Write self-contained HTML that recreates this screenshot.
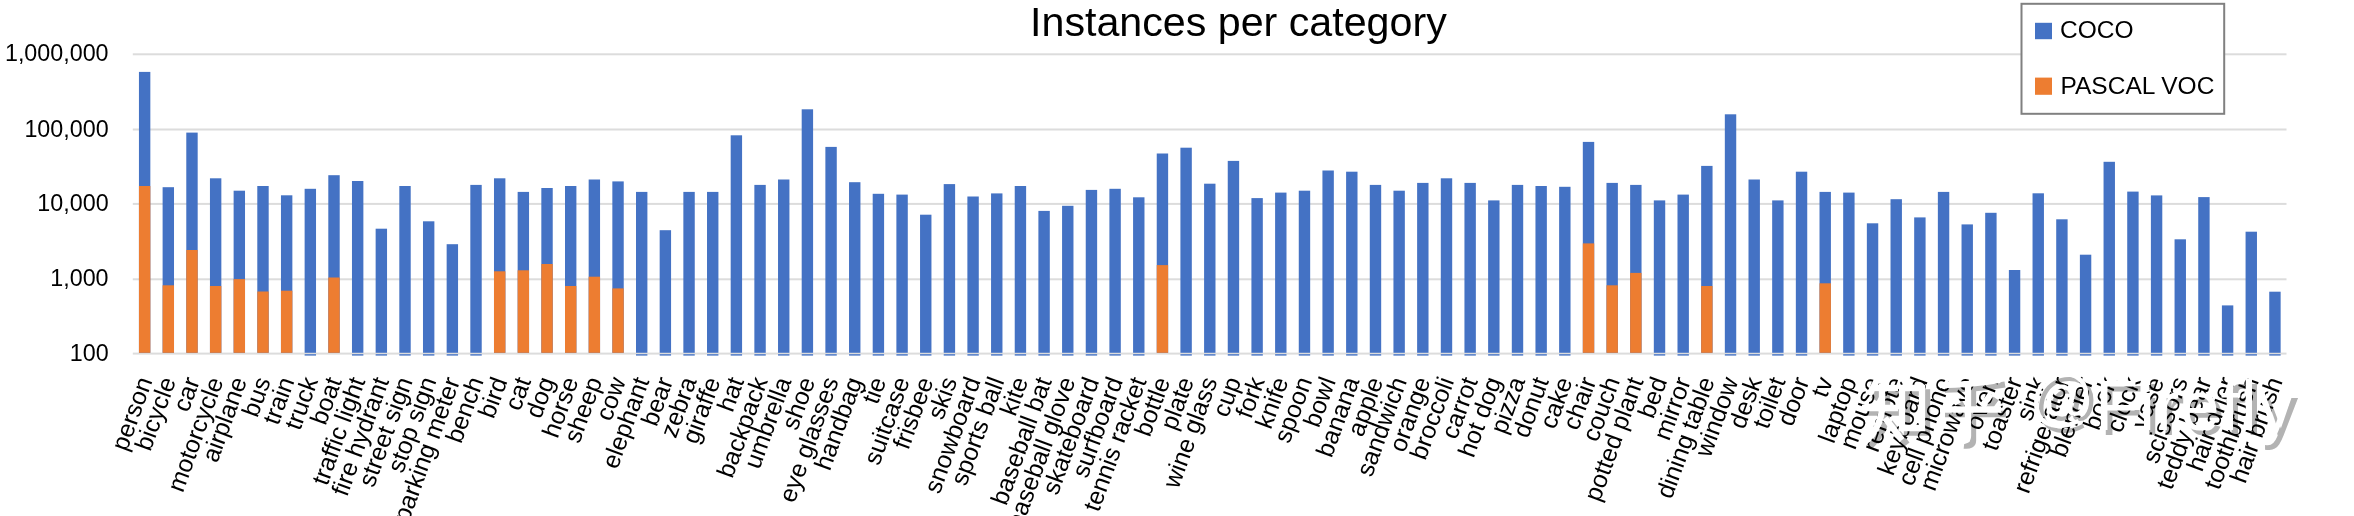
<!DOCTYPE html><html><head><meta charset="utf-8"><style>html,body{margin:0;padding:0;background:#fff;width:2354px;height:516px;overflow:hidden}svg{display:block}text{font-family:"Liberation Sans",sans-serif}</style></head><body>
<svg width="2354" height="516" viewBox="0 0 2354 516">
<rect x="132.8" y="53.30" width="2153.7" height="2" fill="#dcdcdc"/>
<rect x="132.8" y="128.50" width="2153.7" height="2" fill="#dcdcdc"/>
<rect x="132.8" y="202.90" width="2153.7" height="2" fill="#dcdcdc"/>
<rect x="132.8" y="278.30" width="2153.7" height="2" fill="#dcdcdc"/>
<rect x="132.8" y="352.60" width="2153.7" height="2" fill="#dcdcdc"/>
<text x="108.6" y="53.30" font-size="23.3" text-anchor="end" dominant-baseline="central" fill="#000">1,000,000</text>
<text x="108.6" y="128.50" font-size="23.3" text-anchor="end" dominant-baseline="central" fill="#000">100,000</text>
<text x="108.6" y="202.90" font-size="23.3" text-anchor="end" dominant-baseline="central" fill="#000">10,000</text>
<text x="108.6" y="278.30" font-size="23.3" text-anchor="end" dominant-baseline="central" fill="#000">1,000</text>
<text x="108.6" y="352.60" font-size="23.3" text-anchor="end" dominant-baseline="central" fill="#000">100</text>
<rect x="138.94" y="71.90" width="11.4" height="280.90" fill="#4472C4"/>
<rect x="138.94" y="186.00" width="11.4" height="166.80" fill="#ED7D31"/>
<rect x="162.61" y="187.20" width="11.4" height="165.60" fill="#4472C4"/>
<rect x="162.61" y="285.30" width="11.4" height="67.50" fill="#ED7D31"/>
<rect x="186.28" y="132.60" width="11.4" height="220.20" fill="#4472C4"/>
<rect x="186.28" y="250.00" width="11.4" height="102.80" fill="#ED7D31"/>
<rect x="209.95" y="178.30" width="11.4" height="174.50" fill="#4472C4"/>
<rect x="209.95" y="286.00" width="11.4" height="66.80" fill="#ED7D31"/>
<rect x="233.62" y="190.70" width="11.4" height="162.10" fill="#4472C4"/>
<rect x="233.62" y="279.10" width="11.4" height="73.70" fill="#ED7D31"/>
<rect x="257.29" y="186.00" width="11.4" height="166.80" fill="#4472C4"/>
<rect x="257.29" y="291.50" width="11.4" height="61.30" fill="#ED7D31"/>
<rect x="280.96" y="195.30" width="11.4" height="157.50" fill="#4472C4"/>
<rect x="280.96" y="290.70" width="11.4" height="62.10" fill="#ED7D31"/>
<rect x="304.63" y="188.80" width="11.4" height="164.00" fill="#4472C4"/>
<rect x="304.63" y="354.2" width="11.4" height="1.4" fill="#4472C4"/>
<rect x="328.30" y="175.20" width="11.4" height="177.60" fill="#4472C4"/>
<rect x="328.30" y="277.50" width="11.4" height="75.30" fill="#ED7D31"/>
<rect x="351.97" y="181.00" width="11.4" height="171.80" fill="#4472C4"/>
<rect x="351.97" y="354.2" width="11.4" height="1.4" fill="#4472C4"/>
<rect x="375.64" y="228.70" width="11.4" height="124.10" fill="#4472C4"/>
<rect x="375.64" y="354.2" width="11.4" height="1.4" fill="#4472C4"/>
<rect x="399.31" y="186.00" width="11.4" height="166.80" fill="#4472C4"/>
<rect x="399.31" y="354.2" width="11.4" height="1.4" fill="#4472C4"/>
<rect x="422.98" y="221.30" width="11.4" height="131.50" fill="#4472C4"/>
<rect x="422.98" y="354.2" width="11.4" height="1.4" fill="#4472C4"/>
<rect x="446.65" y="244.20" width="11.4" height="108.60" fill="#4472C4"/>
<rect x="446.65" y="354.2" width="11.4" height="1.4" fill="#4472C4"/>
<rect x="470.32" y="184.90" width="11.4" height="167.90" fill="#4472C4"/>
<rect x="470.32" y="354.2" width="11.4" height="1.4" fill="#4472C4"/>
<rect x="493.99" y="178.30" width="11.4" height="174.50" fill="#4472C4"/>
<rect x="493.99" y="271.30" width="11.4" height="81.50" fill="#ED7D31"/>
<rect x="517.65" y="191.90" width="11.4" height="160.90" fill="#4472C4"/>
<rect x="517.65" y="270.30" width="11.4" height="82.50" fill="#ED7D31"/>
<rect x="541.33" y="188.00" width="11.4" height="164.80" fill="#4472C4"/>
<rect x="541.33" y="264.00" width="11.4" height="88.80" fill="#ED7D31"/>
<rect x="565.00" y="186.00" width="11.4" height="166.80" fill="#4472C4"/>
<rect x="565.00" y="286.00" width="11.4" height="66.80" fill="#ED7D31"/>
<rect x="588.66" y="179.50" width="11.4" height="173.30" fill="#4472C4"/>
<rect x="588.66" y="276.70" width="11.4" height="76.10" fill="#ED7D31"/>
<rect x="612.34" y="181.40" width="11.4" height="171.40" fill="#4472C4"/>
<rect x="612.34" y="288.40" width="11.4" height="64.40" fill="#ED7D31"/>
<rect x="636.00" y="191.90" width="11.4" height="160.90" fill="#4472C4"/>
<rect x="636.00" y="354.2" width="11.4" height="1.4" fill="#4472C4"/>
<rect x="659.67" y="230.20" width="11.4" height="122.60" fill="#4472C4"/>
<rect x="659.67" y="354.2" width="11.4" height="1.4" fill="#4472C4"/>
<rect x="683.35" y="191.90" width="11.4" height="160.90" fill="#4472C4"/>
<rect x="683.35" y="354.2" width="11.4" height="1.4" fill="#4472C4"/>
<rect x="707.02" y="191.90" width="11.4" height="160.90" fill="#4472C4"/>
<rect x="707.02" y="354.2" width="11.4" height="1.4" fill="#4472C4"/>
<rect x="730.68" y="135.30" width="11.4" height="217.50" fill="#4472C4"/>
<rect x="730.68" y="354.2" width="11.4" height="1.4" fill="#4472C4"/>
<rect x="754.36" y="184.90" width="11.4" height="167.90" fill="#4472C4"/>
<rect x="754.36" y="354.2" width="11.4" height="1.4" fill="#4472C4"/>
<rect x="778.03" y="179.50" width="11.4" height="173.30" fill="#4472C4"/>
<rect x="778.03" y="354.2" width="11.4" height="1.4" fill="#4472C4"/>
<rect x="801.69" y="109.30" width="11.4" height="243.50" fill="#4472C4"/>
<rect x="801.69" y="354.2" width="11.4" height="1.4" fill="#4472C4"/>
<rect x="825.37" y="146.90" width="11.4" height="205.90" fill="#4472C4"/>
<rect x="825.37" y="354.2" width="11.4" height="1.4" fill="#4472C4"/>
<rect x="849.04" y="182.20" width="11.4" height="170.60" fill="#4472C4"/>
<rect x="849.04" y="354.2" width="11.4" height="1.4" fill="#4472C4"/>
<rect x="872.70" y="193.80" width="11.4" height="159.00" fill="#4472C4"/>
<rect x="872.70" y="354.2" width="11.4" height="1.4" fill="#4472C4"/>
<rect x="896.38" y="194.60" width="11.4" height="158.20" fill="#4472C4"/>
<rect x="896.38" y="354.2" width="11.4" height="1.4" fill="#4472C4"/>
<rect x="920.05" y="214.70" width="11.4" height="138.10" fill="#4472C4"/>
<rect x="920.05" y="354.2" width="11.4" height="1.4" fill="#4472C4"/>
<rect x="943.71" y="184.10" width="11.4" height="168.70" fill="#4472C4"/>
<rect x="943.71" y="354.2" width="11.4" height="1.4" fill="#4472C4"/>
<rect x="967.38" y="196.50" width="11.4" height="156.30" fill="#4472C4"/>
<rect x="967.38" y="354.2" width="11.4" height="1.4" fill="#4472C4"/>
<rect x="991.06" y="193.40" width="11.4" height="159.40" fill="#4472C4"/>
<rect x="991.06" y="354.2" width="11.4" height="1.4" fill="#4472C4"/>
<rect x="1014.73" y="186.00" width="11.4" height="166.80" fill="#4472C4"/>
<rect x="1014.73" y="354.2" width="11.4" height="1.4" fill="#4472C4"/>
<rect x="1038.39" y="210.90" width="11.4" height="141.90" fill="#4472C4"/>
<rect x="1038.39" y="354.2" width="11.4" height="1.4" fill="#4472C4"/>
<rect x="1062.07" y="205.80" width="11.4" height="147.00" fill="#4472C4"/>
<rect x="1062.07" y="354.2" width="11.4" height="1.4" fill="#4472C4"/>
<rect x="1085.74" y="189.90" width="11.4" height="162.90" fill="#4472C4"/>
<rect x="1085.74" y="354.2" width="11.4" height="1.4" fill="#4472C4"/>
<rect x="1109.40" y="188.80" width="11.4" height="164.00" fill="#4472C4"/>
<rect x="1109.40" y="354.2" width="11.4" height="1.4" fill="#4472C4"/>
<rect x="1133.08" y="197.30" width="11.4" height="155.50" fill="#4472C4"/>
<rect x="1133.08" y="354.2" width="11.4" height="1.4" fill="#4472C4"/>
<rect x="1156.74" y="153.50" width="11.4" height="199.30" fill="#4472C4"/>
<rect x="1156.74" y="265.10" width="11.4" height="87.70" fill="#ED7D31"/>
<rect x="1180.41" y="147.70" width="11.4" height="205.10" fill="#4472C4"/>
<rect x="1180.41" y="354.2" width="11.4" height="1.4" fill="#4472C4"/>
<rect x="1204.09" y="183.70" width="11.4" height="169.10" fill="#4472C4"/>
<rect x="1204.09" y="354.2" width="11.4" height="1.4" fill="#4472C4"/>
<rect x="1227.75" y="160.90" width="11.4" height="191.90" fill="#4472C4"/>
<rect x="1227.75" y="354.2" width="11.4" height="1.4" fill="#4472C4"/>
<rect x="1251.42" y="198.10" width="11.4" height="154.70" fill="#4472C4"/>
<rect x="1251.42" y="354.2" width="11.4" height="1.4" fill="#4472C4"/>
<rect x="1275.10" y="192.60" width="11.4" height="160.20" fill="#4472C4"/>
<rect x="1275.10" y="354.2" width="11.4" height="1.4" fill="#4472C4"/>
<rect x="1298.77" y="190.70" width="11.4" height="162.10" fill="#4472C4"/>
<rect x="1298.77" y="354.2" width="11.4" height="1.4" fill="#4472C4"/>
<rect x="1322.43" y="170.50" width="11.4" height="182.30" fill="#4472C4"/>
<rect x="1322.43" y="354.2" width="11.4" height="1.4" fill="#4472C4"/>
<rect x="1346.11" y="171.70" width="11.4" height="181.10" fill="#4472C4"/>
<rect x="1346.11" y="354.2" width="11.4" height="1.4" fill="#4472C4"/>
<rect x="1369.78" y="184.90" width="11.4" height="167.90" fill="#4472C4"/>
<rect x="1369.78" y="354.2" width="11.4" height="1.4" fill="#4472C4"/>
<rect x="1393.44" y="190.70" width="11.4" height="162.10" fill="#4472C4"/>
<rect x="1393.44" y="354.2" width="11.4" height="1.4" fill="#4472C4"/>
<rect x="1417.12" y="182.90" width="11.4" height="169.90" fill="#4472C4"/>
<rect x="1417.12" y="354.2" width="11.4" height="1.4" fill="#4472C4"/>
<rect x="1440.79" y="178.30" width="11.4" height="174.50" fill="#4472C4"/>
<rect x="1440.79" y="354.2" width="11.4" height="1.4" fill="#4472C4"/>
<rect x="1464.45" y="182.90" width="11.4" height="169.90" fill="#4472C4"/>
<rect x="1464.45" y="354.2" width="11.4" height="1.4" fill="#4472C4"/>
<rect x="1488.12" y="200.40" width="11.4" height="152.40" fill="#4472C4"/>
<rect x="1488.12" y="354.2" width="11.4" height="1.4" fill="#4472C4"/>
<rect x="1511.80" y="184.90" width="11.4" height="167.90" fill="#4472C4"/>
<rect x="1511.80" y="354.2" width="11.4" height="1.4" fill="#4472C4"/>
<rect x="1535.46" y="186.00" width="11.4" height="166.80" fill="#4472C4"/>
<rect x="1535.46" y="354.2" width="11.4" height="1.4" fill="#4472C4"/>
<rect x="1559.13" y="186.80" width="11.4" height="166.00" fill="#4472C4"/>
<rect x="1559.13" y="354.2" width="11.4" height="1.4" fill="#4472C4"/>
<rect x="1582.81" y="141.90" width="11.4" height="210.90" fill="#4472C4"/>
<rect x="1582.81" y="243.40" width="11.4" height="109.40" fill="#ED7D31"/>
<rect x="1606.47" y="182.90" width="11.4" height="169.90" fill="#4472C4"/>
<rect x="1606.47" y="285.30" width="11.4" height="67.50" fill="#ED7D31"/>
<rect x="1630.14" y="184.90" width="11.4" height="167.90" fill="#4472C4"/>
<rect x="1630.14" y="272.90" width="11.4" height="79.90" fill="#ED7D31"/>
<rect x="1653.82" y="200.40" width="11.4" height="152.40" fill="#4472C4"/>
<rect x="1653.82" y="354.2" width="11.4" height="1.4" fill="#4472C4"/>
<rect x="1677.49" y="194.60" width="11.4" height="158.20" fill="#4472C4"/>
<rect x="1677.49" y="354.2" width="11.4" height="1.4" fill="#4472C4"/>
<rect x="1701.15" y="165.90" width="11.4" height="186.90" fill="#4472C4"/>
<rect x="1701.15" y="286.00" width="11.4" height="66.80" fill="#ED7D31"/>
<rect x="1724.83" y="114.30" width="11.4" height="238.50" fill="#4472C4"/>
<rect x="1724.83" y="354.2" width="11.4" height="1.4" fill="#4472C4"/>
<rect x="1748.50" y="179.50" width="11.4" height="173.30" fill="#4472C4"/>
<rect x="1748.50" y="354.2" width="11.4" height="1.4" fill="#4472C4"/>
<rect x="1772.16" y="200.40" width="11.4" height="152.40" fill="#4472C4"/>
<rect x="1772.16" y="354.2" width="11.4" height="1.4" fill="#4472C4"/>
<rect x="1795.84" y="171.70" width="11.4" height="181.10" fill="#4472C4"/>
<rect x="1795.84" y="354.2" width="11.4" height="1.4" fill="#4472C4"/>
<rect x="1819.51" y="191.90" width="11.4" height="160.90" fill="#4472C4"/>
<rect x="1819.51" y="283.30" width="11.4" height="69.50" fill="#ED7D31"/>
<rect x="1843.17" y="192.60" width="11.4" height="160.20" fill="#4472C4"/>
<rect x="1843.17" y="354.2" width="11.4" height="1.4" fill="#4472C4"/>
<rect x="1866.85" y="223.30" width="11.4" height="129.50" fill="#4472C4"/>
<rect x="1866.85" y="354.2" width="11.4" height="1.4" fill="#4472C4"/>
<rect x="1890.52" y="199.20" width="11.4" height="153.60" fill="#4472C4"/>
<rect x="1890.52" y="354.2" width="11.4" height="1.4" fill="#4472C4"/>
<rect x="1914.18" y="217.40" width="11.4" height="135.40" fill="#4472C4"/>
<rect x="1914.18" y="354.2" width="11.4" height="1.4" fill="#4472C4"/>
<rect x="1937.86" y="191.90" width="11.4" height="160.90" fill="#4472C4"/>
<rect x="1937.86" y="354.2" width="11.4" height="1.4" fill="#4472C4"/>
<rect x="1961.53" y="224.40" width="11.4" height="128.40" fill="#4472C4"/>
<rect x="1961.53" y="354.2" width="11.4" height="1.4" fill="#4472C4"/>
<rect x="1985.19" y="212.80" width="11.4" height="140.00" fill="#4472C4"/>
<rect x="1985.19" y="354.2" width="11.4" height="1.4" fill="#4472C4"/>
<rect x="2008.87" y="270.00" width="11.4" height="82.80" fill="#4472C4"/>
<rect x="2008.87" y="354.2" width="11.4" height="1.4" fill="#4472C4"/>
<rect x="2032.54" y="193.30" width="11.4" height="159.50" fill="#4472C4"/>
<rect x="2032.54" y="354.2" width="11.4" height="1.4" fill="#4472C4"/>
<rect x="2056.21" y="219.30" width="11.4" height="133.50" fill="#4472C4"/>
<rect x="2056.21" y="354.2" width="11.4" height="1.4" fill="#4472C4"/>
<rect x="2079.88" y="254.70" width="11.4" height="98.10" fill="#4472C4"/>
<rect x="2079.88" y="354.2" width="11.4" height="1.4" fill="#4472C4"/>
<rect x="2103.55" y="161.80" width="11.4" height="191.00" fill="#4472C4"/>
<rect x="2103.55" y="354.2" width="11.4" height="1.4" fill="#4472C4"/>
<rect x="2127.22" y="191.60" width="11.4" height="161.20" fill="#4472C4"/>
<rect x="2127.22" y="354.2" width="11.4" height="1.4" fill="#4472C4"/>
<rect x="2150.89" y="195.40" width="11.4" height="157.40" fill="#4472C4"/>
<rect x="2150.89" y="354.2" width="11.4" height="1.4" fill="#4472C4"/>
<rect x="2174.56" y="239.30" width="11.4" height="113.50" fill="#4472C4"/>
<rect x="2174.56" y="354.2" width="11.4" height="1.4" fill="#4472C4"/>
<rect x="2198.23" y="197.10" width="11.4" height="155.70" fill="#4472C4"/>
<rect x="2198.23" y="354.2" width="11.4" height="1.4" fill="#4472C4"/>
<rect x="2221.90" y="305.40" width="11.4" height="47.40" fill="#4472C4"/>
<rect x="2221.90" y="354.2" width="11.4" height="1.4" fill="#4472C4"/>
<rect x="2245.57" y="231.70" width="11.4" height="121.10" fill="#4472C4"/>
<rect x="2245.57" y="354.2" width="11.4" height="1.4" fill="#4472C4"/>
<rect x="2269.24" y="291.70" width="11.4" height="61.10" fill="#4472C4"/>
<rect x="2269.24" y="354.2" width="11.4" height="1.4" fill="#4472C4"/>
<text transform="translate(144.64,378) rotate(-70) scale(1.0,1)" font-size="24.8" text-anchor="end" dominant-baseline="central" fill="#000">person</text>
<text transform="translate(168.31,378) rotate(-70) scale(1.0,1)" font-size="24.8" text-anchor="end" dominant-baseline="central" fill="#000">bicycle</text>
<text transform="translate(191.98,378) rotate(-70) scale(1.0,1)" font-size="24.8" text-anchor="end" dominant-baseline="central" fill="#000">car</text>
<text transform="translate(215.65,378) rotate(-70) scale(1.0,1)" font-size="24.8" text-anchor="end" dominant-baseline="central" fill="#000">motorcycle</text>
<text transform="translate(239.32,378) rotate(-70) scale(1.0,1)" font-size="24.8" text-anchor="end" dominant-baseline="central" fill="#000">airplane</text>
<text transform="translate(262.99,378) rotate(-70) scale(1.0,1)" font-size="24.8" text-anchor="end" dominant-baseline="central" fill="#000">bus</text>
<text transform="translate(286.66,378) rotate(-70) scale(1.0,1)" font-size="24.8" text-anchor="end" dominant-baseline="central" fill="#000">train</text>
<text transform="translate(310.33,378) rotate(-70) scale(1.0,1)" font-size="24.8" text-anchor="end" dominant-baseline="central" fill="#000">truck</text>
<text transform="translate(334.00,378) rotate(-70) scale(1.0,1)" font-size="24.8" text-anchor="end" dominant-baseline="central" fill="#000">boat</text>
<text transform="translate(357.67,378) rotate(-70) scale(1.0,1)" font-size="24.8" text-anchor="end" dominant-baseline="central" fill="#000">traffic light</text>
<text transform="translate(381.34,378) rotate(-70) scale(1.0,1)" font-size="24.8" text-anchor="end" dominant-baseline="central" fill="#000">fire hydrant</text>
<text transform="translate(405.01,378) rotate(-70) scale(1.0,1)" font-size="24.8" text-anchor="end" dominant-baseline="central" fill="#000">street sign</text>
<text transform="translate(428.68,378) rotate(-70) scale(1.0,1)" font-size="24.8" text-anchor="end" dominant-baseline="central" fill="#000">stop sign</text>
<text transform="translate(452.35,378) rotate(-70) scale(1.0,1)" font-size="24.8" text-anchor="end" dominant-baseline="central" fill="#000">parking meter</text>
<text transform="translate(476.02,378) rotate(-70) scale(1.0,1)" font-size="24.8" text-anchor="end" dominant-baseline="central" fill="#000">bench</text>
<text transform="translate(499.69,378) rotate(-70) scale(1.0,1)" font-size="24.8" text-anchor="end" dominant-baseline="central" fill="#000">bird</text>
<text transform="translate(523.36,378) rotate(-70) scale(1.0,1)" font-size="24.8" text-anchor="end" dominant-baseline="central" fill="#000">cat</text>
<text transform="translate(547.03,378) rotate(-70) scale(1.0,1)" font-size="24.8" text-anchor="end" dominant-baseline="central" fill="#000">dog</text>
<text transform="translate(570.70,378) rotate(-70) scale(1.0,1)" font-size="24.8" text-anchor="end" dominant-baseline="central" fill="#000">horse</text>
<text transform="translate(594.37,378) rotate(-70) scale(1.0,1)" font-size="24.8" text-anchor="end" dominant-baseline="central" fill="#000">sheep</text>
<text transform="translate(618.04,378) rotate(-70) scale(1.0,1)" font-size="24.8" text-anchor="end" dominant-baseline="central" fill="#000">cow</text>
<text transform="translate(641.71,378) rotate(-70) scale(1.0,1)" font-size="24.8" text-anchor="end" dominant-baseline="central" fill="#000">elephant</text>
<text transform="translate(665.38,378) rotate(-70) scale(1.0,1)" font-size="24.8" text-anchor="end" dominant-baseline="central" fill="#000">bear</text>
<text transform="translate(689.05,378) rotate(-70) scale(1.0,1)" font-size="24.8" text-anchor="end" dominant-baseline="central" fill="#000">zebra</text>
<text transform="translate(712.72,378) rotate(-70) scale(1.0,1)" font-size="24.8" text-anchor="end" dominant-baseline="central" fill="#000">giraffe</text>
<text transform="translate(736.38,378) rotate(-70) scale(1.0,1)" font-size="24.8" text-anchor="end" dominant-baseline="central" fill="#000">hat</text>
<text transform="translate(760.06,378) rotate(-70) scale(1.0,1)" font-size="24.8" text-anchor="end" dominant-baseline="central" fill="#000">backpack</text>
<text transform="translate(783.73,378) rotate(-70) scale(1.0,1)" font-size="24.8" text-anchor="end" dominant-baseline="central" fill="#000">umbrella</text>
<text transform="translate(807.39,378) rotate(-70) scale(1.0,1)" font-size="24.8" text-anchor="end" dominant-baseline="central" fill="#000">shoe</text>
<text transform="translate(831.07,378) rotate(-70) scale(1.0,1)" font-size="24.8" text-anchor="end" dominant-baseline="central" fill="#000">eye glasses</text>
<text transform="translate(854.74,378) rotate(-70) scale(1.0,1)" font-size="24.8" text-anchor="end" dominant-baseline="central" fill="#000">handbag</text>
<text transform="translate(878.40,378) rotate(-70) scale(1.0,1)" font-size="24.8" text-anchor="end" dominant-baseline="central" fill="#000">tie</text>
<text transform="translate(902.08,378) rotate(-70) scale(1.0,1)" font-size="24.8" text-anchor="end" dominant-baseline="central" fill="#000">suitcase</text>
<text transform="translate(925.75,378) rotate(-70) scale(1.0,1)" font-size="24.8" text-anchor="end" dominant-baseline="central" fill="#000">frisbee</text>
<text transform="translate(949.41,378) rotate(-70) scale(1.0,1)" font-size="24.8" text-anchor="end" dominant-baseline="central" fill="#000">skis</text>
<text transform="translate(973.09,378) rotate(-70) scale(1.0,1)" font-size="24.8" text-anchor="end" dominant-baseline="central" fill="#000">snowboard</text>
<text transform="translate(996.76,378) rotate(-70) scale(1.0,1)" font-size="24.8" text-anchor="end" dominant-baseline="central" fill="#000">sports ball</text>
<text transform="translate(1020.43,378) rotate(-70) scale(1.0,1)" font-size="24.8" text-anchor="end" dominant-baseline="central" fill="#000">kite</text>
<text transform="translate(1044.10,378) rotate(-70) scale(1.0,1)" font-size="24.8" text-anchor="end" dominant-baseline="central" fill="#000">baseball bat</text>
<text transform="translate(1067.77,378) rotate(-70) scale(1.0,1)" font-size="24.8" text-anchor="end" dominant-baseline="central" fill="#000">baseball glove</text>
<text transform="translate(1091.44,378) rotate(-70) scale(1.0,1)" font-size="24.8" text-anchor="end" dominant-baseline="central" fill="#000">skateboard</text>
<text transform="translate(1115.11,378) rotate(-70) scale(1.0,1)" font-size="24.8" text-anchor="end" dominant-baseline="central" fill="#000">surfboard</text>
<text transform="translate(1138.78,378) rotate(-70) scale(1.0,1)" font-size="24.8" text-anchor="end" dominant-baseline="central" fill="#000">tennis racket</text>
<text transform="translate(1162.44,378) rotate(-70) scale(1.0,1)" font-size="24.8" text-anchor="end" dominant-baseline="central" fill="#000">bottle</text>
<text transform="translate(1186.12,378) rotate(-70) scale(1.0,1)" font-size="24.8" text-anchor="end" dominant-baseline="central" fill="#000">plate</text>
<text transform="translate(1209.79,378) rotate(-70) scale(1.0,1)" font-size="24.8" text-anchor="end" dominant-baseline="central" fill="#000">wine glass</text>
<text transform="translate(1233.45,378) rotate(-70) scale(1.0,1)" font-size="24.8" text-anchor="end" dominant-baseline="central" fill="#000">cup</text>
<text transform="translate(1257.12,378) rotate(-70) scale(1.0,1)" font-size="24.8" text-anchor="end" dominant-baseline="central" fill="#000">fork</text>
<text transform="translate(1280.80,378) rotate(-70) scale(1.0,1)" font-size="24.8" text-anchor="end" dominant-baseline="central" fill="#000">knife</text>
<text transform="translate(1304.47,378) rotate(-70) scale(1.0,1)" font-size="24.8" text-anchor="end" dominant-baseline="central" fill="#000">spoon</text>
<text transform="translate(1328.13,378) rotate(-70) scale(1.0,1)" font-size="24.8" text-anchor="end" dominant-baseline="central" fill="#000">bowl</text>
<text transform="translate(1351.81,378) rotate(-70) scale(1.0,1)" font-size="24.8" text-anchor="end" dominant-baseline="central" fill="#000">banana</text>
<text transform="translate(1375.48,378) rotate(-70) scale(1.0,1)" font-size="24.8" text-anchor="end" dominant-baseline="central" fill="#000">apple</text>
<text transform="translate(1399.14,378) rotate(-70) scale(1.0,1)" font-size="24.8" text-anchor="end" dominant-baseline="central" fill="#000">sandwich</text>
<text transform="translate(1422.82,378) rotate(-70) scale(1.0,1)" font-size="24.8" text-anchor="end" dominant-baseline="central" fill="#000">orange</text>
<text transform="translate(1446.49,378) rotate(-70) scale(1.0,1)" font-size="24.8" text-anchor="end" dominant-baseline="central" fill="#000">broccoli</text>
<text transform="translate(1470.15,378) rotate(-70) scale(1.0,1)" font-size="24.8" text-anchor="end" dominant-baseline="central" fill="#000">carrot</text>
<text transform="translate(1493.83,378) rotate(-70) scale(1.0,1)" font-size="24.8" text-anchor="end" dominant-baseline="central" fill="#000">hot dog</text>
<text transform="translate(1517.50,378) rotate(-70) scale(1.0,1)" font-size="24.8" text-anchor="end" dominant-baseline="central" fill="#000">pizza</text>
<text transform="translate(1541.16,378) rotate(-70) scale(1.0,1)" font-size="24.8" text-anchor="end" dominant-baseline="central" fill="#000">donut</text>
<text transform="translate(1564.84,378) rotate(-70) scale(1.0,1)" font-size="24.8" text-anchor="end" dominant-baseline="central" fill="#000">cake</text>
<text transform="translate(1588.51,378) rotate(-70) scale(1.0,1)" font-size="24.8" text-anchor="end" dominant-baseline="central" fill="#000">chair</text>
<text transform="translate(1612.17,378) rotate(-70) scale(1.0,1)" font-size="24.8" text-anchor="end" dominant-baseline="central" fill="#000">couch</text>
<text transform="translate(1635.85,378) rotate(-70) scale(1.0,1)" font-size="24.8" text-anchor="end" dominant-baseline="central" fill="#000">potted plant</text>
<text transform="translate(1659.52,378) rotate(-70) scale(1.0,1)" font-size="24.8" text-anchor="end" dominant-baseline="central" fill="#000">bed</text>
<text transform="translate(1683.19,378) rotate(-70) scale(1.0,1)" font-size="24.8" text-anchor="end" dominant-baseline="central" fill="#000">mirror</text>
<text transform="translate(1706.86,378) rotate(-70) scale(1.0,1)" font-size="24.8" text-anchor="end" dominant-baseline="central" fill="#000">dining table</text>
<text transform="translate(1730.53,378) rotate(-70) scale(1.0,1)" font-size="24.8" text-anchor="end" dominant-baseline="central" fill="#000">window</text>
<text transform="translate(1754.20,378) rotate(-70) scale(1.0,1)" font-size="24.8" text-anchor="end" dominant-baseline="central" fill="#000">desk</text>
<text transform="translate(1777.87,378) rotate(-70) scale(1.0,1)" font-size="24.8" text-anchor="end" dominant-baseline="central" fill="#000">toilet</text>
<text transform="translate(1801.54,378) rotate(-70) scale(1.0,1)" font-size="24.8" text-anchor="end" dominant-baseline="central" fill="#000">door</text>
<text transform="translate(1825.21,378) rotate(-70) scale(1.0,1)" font-size="24.8" text-anchor="end" dominant-baseline="central" fill="#000">tv</text>
<text transform="translate(1848.88,378) rotate(-70) scale(1.0,1)" font-size="24.8" text-anchor="end" dominant-baseline="central" fill="#000">laptop</text>
<text transform="translate(1872.55,378) rotate(-70) scale(1.0,1)" font-size="24.8" text-anchor="end" dominant-baseline="central" fill="#000">mouse</text>
<text transform="translate(1896.22,378) rotate(-70) scale(1.0,1)" font-size="24.8" text-anchor="end" dominant-baseline="central" fill="#000">remote</text>
<text transform="translate(1919.88,378) rotate(-70) scale(1.0,1)" font-size="24.8" text-anchor="end" dominant-baseline="central" fill="#000">keyboard</text>
<text transform="translate(1943.56,378) rotate(-70) scale(1.0,1)" font-size="24.8" text-anchor="end" dominant-baseline="central" fill="#000">cell phone</text>
<text transform="translate(1967.23,378) rotate(-70) scale(1.0,1)" font-size="24.8" text-anchor="end" dominant-baseline="central" fill="#000">microwave</text>
<text transform="translate(1990.89,378) rotate(-70) scale(1.0,1)" font-size="24.8" text-anchor="end" dominant-baseline="central" fill="#000">oven</text>
<text transform="translate(2014.57,378) rotate(-70) scale(1.0,1)" font-size="24.8" text-anchor="end" dominant-baseline="central" fill="#000">toaster</text>
<text transform="translate(2038.24,378) rotate(-70) scale(1.0,1)" font-size="24.8" text-anchor="end" dominant-baseline="central" fill="#000">sink</text>
<text transform="translate(2061.91,378) rotate(-70) scale(1.0,1)" font-size="24.8" text-anchor="end" dominant-baseline="central" fill="#000">refrigerator</text>
<text transform="translate(2085.58,378) rotate(-70) scale(1.0,1)" font-size="24.8" text-anchor="end" dominant-baseline="central" fill="#000">blender</text>
<text transform="translate(2109.25,378) rotate(-70) scale(1.0,1)" font-size="24.8" text-anchor="end" dominant-baseline="central" fill="#000">book</text>
<text transform="translate(2132.92,378) rotate(-70) scale(1.0,1)" font-size="24.8" text-anchor="end" dominant-baseline="central" fill="#000">clock</text>
<text transform="translate(2156.59,378) rotate(-70) scale(1.0,1)" font-size="24.8" text-anchor="end" dominant-baseline="central" fill="#000">vase</text>
<text transform="translate(2180.26,378) rotate(-70) scale(1.0,1)" font-size="24.8" text-anchor="end" dominant-baseline="central" fill="#000">scissors</text>
<text transform="translate(2203.93,378) rotate(-70) scale(1.0,1)" font-size="24.8" text-anchor="end" dominant-baseline="central" fill="#000">teddy bear</text>
<text transform="translate(2227.60,378) rotate(-70) scale(1.0,1)" font-size="24.8" text-anchor="end" dominant-baseline="central" fill="#000">hair drier</text>
<text transform="translate(2251.27,378) rotate(-70) scale(1.0,1)" font-size="24.8" text-anchor="end" dominant-baseline="central" fill="#000">toothbrush</text>
<text transform="translate(2274.94,378) rotate(-70) scale(1.0,1)" font-size="24.8" text-anchor="end" dominant-baseline="central" fill="#000">hair brush</text>
<g style="mix-blend-mode:multiply"><g transform="translate(1870,384.5)" fill="none" stroke="#b3b3b3" stroke-width="6.3" stroke-linecap="butt" stroke-linejoin="miter"><path d="M12,0 L4,15"/><path d="M7,8 L33,8"/><path d="M-3,28 L33,28"/><path d="M17,4 L17,30 Q15,48 0,62"/><path d="M20,38 L37,60"/><path d="M37,8 L57,8 L57,48 L37,48 Z"/><path d="M135,0 Q106,5 75,5"/><path d="M88,15 L93,24"/><path d="M126,14 L118,25"/><path d="M75,29.5 L136,29.5"/><path d="M103,5 L103,56 Q103,62 94,61"/></g>
<text x="2100" y="434.5" font-size="70.8" letter-spacing="0.9" fill="#b3b3b3">Firefly</text>
<text x="2034" y="423.5" font-size="64" fill="#b3b3b3">@</text></g>
<g transform="translate(1865,380)" fill="none" stroke="#fff" stroke-width="6.3" stroke-linecap="butt" stroke-linejoin="miter"><path d="M12,0 L4,15"/><path d="M7,8 L33,8"/><path d="M-3,28 L33,28"/><path d="M17,4 L17,30 Q15,48 0,62"/><path d="M20,38 L37,60"/><path d="M37,8 L57,8 L57,48 L37,48 Z"/><path d="M135,0 Q106,5 75,5"/><path d="M88,15 L93,24"/><path d="M126,14 L118,25"/><path d="M75,29.5 L136,29.5"/><path d="M103,5 L103,56 Q103,62 94,61"/></g>
<text x="2095" y="430" font-size="70.8" letter-spacing="0.9" fill="#fff">Firefly</text>
<text x="2029" y="419" font-size="64" fill="#fff">@</text>
<text x="1238.4" y="35.8" font-size="41.2" text-anchor="middle" fill="#000">Instances per category</text>
<rect x="2021.5" y="3.8" width="202.7" height="110" fill="#fff" stroke="#808080" stroke-width="2"/>
<rect x="2035" y="22.8" width="17" height="16.4" fill="#4472C4"/>
<rect x="2035" y="77.6" width="17" height="17.2" fill="#ED7D31"/>
<text x="2060" y="38.4" font-size="24.5" fill="#000">COCO</text>
<text x="2060.5" y="94.2" font-size="24.5" fill="#000">PASCAL VOC</text>
</svg></body></html>
